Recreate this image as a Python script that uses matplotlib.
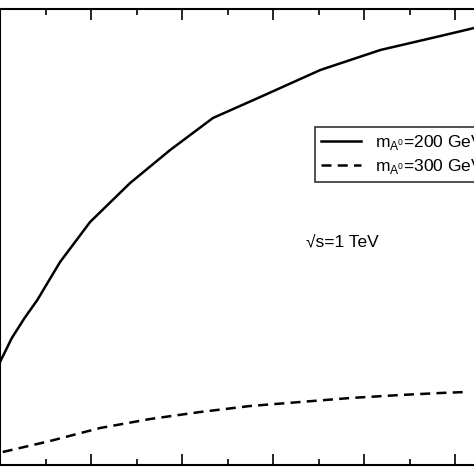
import matplotlib
matplotlib.use("Agg")
import matplotlib.pyplot as plt

plt.rcParams['font.family'] = ['Liberation Sans', 'DejaVu Sans']

# x in units of major tick spacing; y in arbitrary units
x_200 = [0.0, 0.13, 0.27, 0.41, 0.66, 0.99, 1.43, 1.87, 2.34, 2.86, 3.52, 4.18, 4.84, 5.21]
y_200 = [103, 127, 147, 165, 203, 243, 282, 315, 347, 368, 395, 415, 429, 437]
x_300 = [0.03, 0.55, 1.10, 1.65, 2.20, 2.75, 3.30, 3.85, 4.40, 4.84, 5.12]
y_300 = [13, 24, 37, 46, 53, 59, 63, 67, 70, 72, 73]
labels = [r'm$_{\mathregular{A^0}}$=200 GeV', r'm$_{\mathregular{A^0}}$=300 GeV']

fig = plt.figure(figsize=(4.74, 4.74), dpi=100)
W = 520 / 474
ax = fig.add_axes([0.0, 9 / 474, W, (465 - 9) / 474])
ax.set_xlim(0, 520 / 91)
ax.set_ylim(0, 456)
ax.plot(x_200, y_200, color='black', lw=1.8, label=labels[0])
ax.plot(x_300, y_300, color='black', lw=1.8, ls=(0, (4, 2.5)), label=labels[1])
ax.set_xticks(range(0, 6))
ax.set_xticks([i + 0.5 for i in range(0, 6)], minor=True)
ax.tick_params(axis='x', which='both', direction='in', top=True, bottom=True,
               labelbottom=False, length=8, width=1.2)
ax.tick_params(axis='x', which='minor', length=4)
ax.tick_params(axis='y', left=False, labelleft=False)
for s in ax.spines.values():
    s.set_linewidth(1.5)
leg = ax.legend(loc='upper left', bbox_to_anchor=(306 / 520, (465 - 118) / 456),
                frameon=True, fancybox=False, edgecolor='black', fontsize=12.5,
                handlelength=2.3, borderpad=0.35, labelspacing=0.3)
leg.get_frame().set_linewidth(1.2)
ax.text(306 / 91, 465 - 242, '√s=1 TeV', fontsize=12.5, va='center')
fig.savefig('out.png', dpi=100)
